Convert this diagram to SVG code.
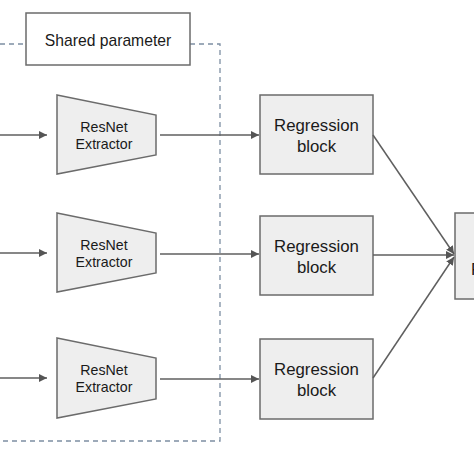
<svg xmlns="http://www.w3.org/2000/svg" width="474" height="474" viewBox="0 0 474 474">
<style>
.node{fill:#eeeeee;stroke:#6b6b6b;stroke-width:1.5}
.box{fill:#ffffff;stroke:#6b6b6b;stroke-width:1.5}
.lbl{font-family:"Liberation Sans",Arial,sans-serif;fill:#1a1a1a;text-anchor:middle}
.ex{font-size:14.2px}
.rg{font-size:16.8px}
.con{stroke:#5f5f5f;stroke-width:1.5;fill:none}
.dash{stroke:#7d8fa3;stroke-width:1.3;fill:none;stroke-dasharray:5,4}
</style>
<defs>
<marker id="ah" viewBox="0 0 10 10" refX="10" refY="5" markerWidth="8" markerHeight="8" markerUnits="userSpaceOnUse" orient="auto">
<path d="M0,0 L10,5 L0,10 Z" fill="#555555"/>
</marker>
</defs>
<rect width="474" height="474" fill="#ffffff"/>
<g id="shared-region">
<path class="dash" d="M0,44 H26 M190,44 H220 V441 H0"/>
</g>
<g id="shared-parameter">
<rect class="box" x="26" y="13" width="164" height="52"/>
<text class="lbl" x="108" y="45.5" font-size="15.7">Shared parameter</text>
</g>
<g id="extractor-1">
<polygon class="node" points="57,95 156,115 156,155 57,174"/>
<text class="lbl ex" x="104" y="132">ResNet</text>
<text class="lbl ex" x="104" y="149">Extractor</text>
</g>
<g id="extractor-2">
<polygon class="node" points="57,213 156,233 156,273 57,292"/>
<text class="lbl ex" x="104" y="250">ResNet</text>
<text class="lbl ex" x="104" y="267">Extractor</text>
</g>
<g id="extractor-3">
<polygon class="node" points="57,338 156,358 156,399 57,418"/>
<text class="lbl ex" x="104" y="375">ResNet</text>
<text class="lbl ex" x="104" y="392">Extractor</text>
</g>
<g id="regression-1">
<rect class="node" x="260" y="95" width="113" height="79"/>
<text class="lbl rg" x="316.5" y="131">Regression</text>
<text class="lbl rg" x="316.5" y="152">block</text>
</g>
<g id="regression-2">
<rect class="node" x="260" y="216" width="113" height="79"/>
<text class="lbl rg" x="316.5" y="252">Regression</text>
<text class="lbl rg" x="316.5" y="273">block</text>
</g>
<g id="regression-3">
<rect class="node" x="260" y="339" width="113" height="80"/>
<text class="lbl rg" x="316.5" y="375">Regression</text>
<text class="lbl rg" x="316.5" y="396">block</text>
</g>
<g id="output">
<rect class="node" x="455" y="213" width="30" height="86"/>
<text class="lbl rg" x="471" y="275" style="text-anchor:start">F</text>
</g>
<g id="connectors">
<line class="con" x1="0" y1="135" x2="47" y2="135" marker-end="url(#ah)"/>
<line class="con" x1="0" y1="253" x2="47" y2="253" marker-end="url(#ah)"/>
<line class="con" x1="0" y1="378" x2="47" y2="378" marker-end="url(#ah)"/>
<line class="con" x1="160" y1="135" x2="259" y2="135" marker-end="url(#ah)"/>
<line class="con" x1="160" y1="254" x2="259" y2="254" marker-end="url(#ah)"/>
<line class="con" x1="160" y1="379" x2="259" y2="379" marker-end="url(#ah)"/>
<line class="con" x1="373" y1="135" x2="454" y2="254" marker-end="url(#ah)"/>
<line class="con" x1="373" y1="255" x2="454" y2="255" marker-end="url(#ah)"/>
<line class="con" x1="373" y1="378" x2="454" y2="257" marker-end="url(#ah)"/>
</g>
</svg>
